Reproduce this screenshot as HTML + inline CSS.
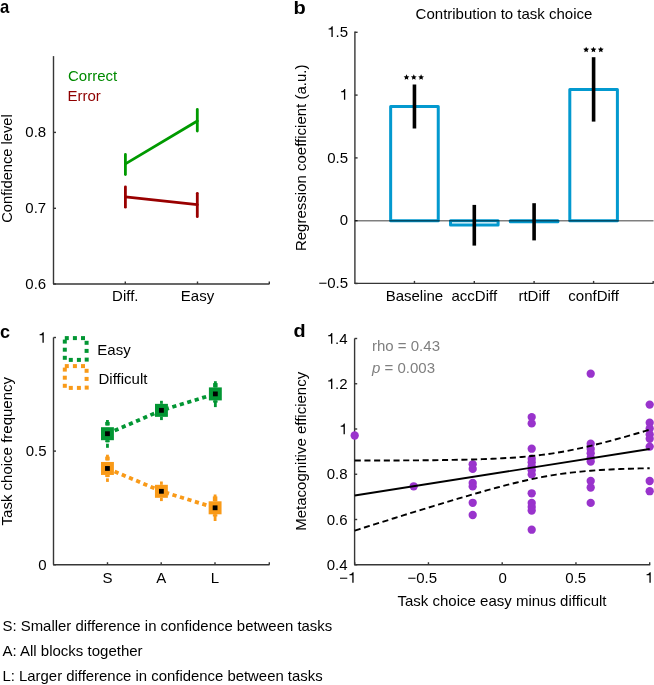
<!DOCTYPE html>
<html><head><meta charset="utf-8"><style>
html,body{margin:0;padding:0;background:#fff;overflow:hidden;}
svg{display:block;will-change:transform;}
text{font-family:"Liberation Sans", sans-serif;}
</style></head><body>
<svg width="654" height="685" viewBox="0 0 654 685" font-family="Liberation Sans, sans-serif">
<rect width="654" height="685" fill="#fff"/>
<text x="0.1" y="12.6" font-size="19" text-anchor="start" fill="#000" font-weight="bold" textLength="9.29" lengthAdjust="spacingAndGlyphs" >a</text>
<line x1="53.5" y1="56.1" x2="53.5" y2="284" stroke="#363636" stroke-width="1.4" />
<line x1="53" y1="284" x2="269.5" y2="284" stroke="#363636" stroke-width="1.4" />
<line x1="269.3" y1="284" x2="269.3" y2="281.5" stroke="#363636" stroke-width="1.4" />
<line x1="53.5" y1="132.4" x2="56" y2="132.4" stroke="#363636" stroke-width="1.4" />
<text x="46.2" y="137.1" font-size="15" text-anchor="end" fill="#000" font-weight="normal" >0.8</text>
<line x1="53.5" y1="208.3" x2="56" y2="208.3" stroke="#363636" stroke-width="1.4" />
<text x="46.2" y="213.0" font-size="15" text-anchor="end" fill="#000" font-weight="normal" >0.7</text>
<line x1="53.5" y1="284" x2="56" y2="284" stroke="#363636" stroke-width="1.4" />
<text x="46.2" y="288.7" font-size="15" text-anchor="end" fill="#000" font-weight="normal" >0.6</text>
<line x1="125.3" y1="284" x2="125.3" y2="281.5" stroke="#363636" stroke-width="1.4" />
<text x="125.3" y="301.1" font-size="15" text-anchor="middle" fill="#000" font-weight="normal" >Diff.</text>
<line x1="197.5" y1="284" x2="197.5" y2="281.5" stroke="#363636" stroke-width="1.4" />
<text x="197.5" y="301.1" font-size="15" text-anchor="middle" fill="#000" font-weight="normal" >Easy</text>
<text x="11.8" y="168.5" font-size="15" text-anchor="middle" fill="#000" font-weight="normal" textLength="108.6" lengthAdjust="spacingAndGlyphs" transform="rotate(-90 11.8 168.5)">Confidence level</text>
<text x="68" y="80.9" font-size="15" text-anchor="start" fill="#008a00" font-weight="normal" >Correct</text>
<text x="67.5" y="100.8" font-size="15" text-anchor="start" fill="#8f0000" font-weight="normal" >Error</text>
<g stroke-linecap="round" stroke-width="2.8" fill="none">
<polyline points="125.4,163.9 197.3,121" stroke="#009a00"/>
<line x1="125.4" y1="154.5" x2="125.4" y2="174.6" stroke="#009a00"/>
<line x1="197.3" y1="109.5" x2="197.3" y2="131" stroke="#009a00"/>
<polyline points="125.4,196.8 197.3,204.7" stroke="#990000"/>
<line x1="125.4" y1="186.8" x2="125.4" y2="207.2" stroke="#990000"/>
<line x1="197.3" y1="193.3" x2="197.3" y2="216.7" stroke="#990000"/>
</g>
<text x="293.5" y="13.6" font-size="19" text-anchor="start" fill="#000" font-weight="bold" textLength="12.23" lengthAdjust="spacingAndGlyphs" >b</text>
<text x="504" y="19.3" font-size="15" text-anchor="middle" fill="#000" font-weight="normal" >Contribution to task choice</text>
<line x1="354.9" y1="31.6" x2="354.9" y2="283.4" stroke="#363636" stroke-width="1.4" />
<line x1="354.3" y1="283.4" x2="653.5" y2="283.4" stroke="#363636" stroke-width="1.4" />
<line x1="653.2" y1="283.4" x2="653.2" y2="280.9" stroke="#363636" stroke-width="1.4" />
<line x1="354.9" y1="32.30000000000001" x2="357.6" y2="32.30000000000001" stroke="#363636" stroke-width="1.4" />
<text x="348" y="36.90000000000001" font-size="15" text-anchor="end" fill="#000" font-weight="normal" > .5</text>
<polygon points="331.44,36.90 332.74,36.90 332.74,26.33 331.83,26.33 331.27,27.23 330.15,28.13 328.59,28.43 328.59,29.45 331.44,29.45" fill="#000"/>
<line x1="354.9" y1="95.1" x2="357.6" y2="95.1" stroke="#363636" stroke-width="1.4" />
<text x="348" y="99.69999999999999" font-size="15" text-anchor="end" fill="#000" font-weight="normal" > </text>
<polygon points="343.95,99.70 345.25,99.70 345.25,89.12 344.34,89.12 343.78,90.02 342.66,90.92 341.10,91.22 341.10,92.24 343.95,92.24" fill="#000"/>
<line x1="354.9" y1="157.89999999999998" x2="357.6" y2="157.89999999999998" stroke="#363636" stroke-width="1.4" />
<text x="348" y="162.49999999999997" font-size="15" text-anchor="end" fill="#000" font-weight="normal" >0.5</text>
<line x1="354.9" y1="220.7" x2="357.6" y2="220.7" stroke="#363636" stroke-width="1.4" />
<text x="348" y="225.29999999999998" font-size="15" text-anchor="end" fill="#000" font-weight="normal" >0</text>
<line x1="354.9" y1="283.5" x2="357.6" y2="283.5" stroke="#363636" stroke-width="1.4" />
<text x="348" y="288.1" font-size="15" text-anchor="end" fill="#000" font-weight="normal" >−0.5</text>
<rect x="390.65" y="106.404" width="47.6" height="114.29599999999999" fill="none" stroke="#0399cf" stroke-width="3.0" stroke-linejoin="round"/>
<line x1="414.45" y1="283.4" x2="414.45" y2="280.9" stroke="#363636" stroke-width="1.4" />
<text x="414.45" y="300.6" font-size="15" text-anchor="middle" fill="#000" font-weight="normal" >Baseline</text>
<rect x="450.5" y="220.7" width="47.6" height="4.395999999999987" fill="none" stroke="#0399cf" stroke-width="3.0" stroke-linejoin="round"/>
<line x1="474.3" y1="283.4" x2="474.3" y2="280.9" stroke="#363636" stroke-width="1.4" />
<text x="474.3" y="300.6" font-size="15" text-anchor="middle" fill="#000" font-weight="normal" >accDiff</text>
<rect x="510.3" y="220.7" width="47.6" height="1.0047999999999888" fill="none" stroke="#0399cf" stroke-width="3.0" stroke-linejoin="round"/>
<line x1="534.1" y1="283.4" x2="534.1" y2="280.9" stroke="#363636" stroke-width="1.4" />
<text x="534.1" y="300.6" font-size="15" text-anchor="middle" fill="#000" font-weight="normal" >rtDiff</text>
<rect x="569.8000000000001" y="89.44800000000001" width="47.6" height="131.25199999999998" fill="none" stroke="#0399cf" stroke-width="3.0" stroke-linejoin="round"/>
<line x1="593.6" y1="283.4" x2="593.6" y2="280.9" stroke="#363636" stroke-width="1.4" />
<text x="593.6" y="300.6" font-size="15" text-anchor="middle" fill="#000" font-weight="normal" >confDiff</text>
<line x1="354.9" y1="220.8" x2="653.5" y2="220.8" stroke="rgba(0,0,0,0.5)" stroke-width="1.6" />
<line x1="414.45" y1="84.5" x2="414.45" y2="128.5" stroke="#000" stroke-width="3.6" />
<line x1="474.3" y1="204.9" x2="474.3" y2="245.6" stroke="#000" stroke-width="3.6" />
<line x1="534.1" y1="203.2" x2="534.1" y2="240.4" stroke="#000" stroke-width="3.6" />
<line x1="593.6" y1="57.2" x2="593.6" y2="121.6" stroke="#000" stroke-width="3.6" />
<polygon points="406.50,74.35 407.36,76.22 409.40,76.46 407.89,77.85 408.29,79.87 406.50,78.86 404.71,79.87 405.11,77.85 403.60,76.46 405.64,76.22" fill="#000"/>
<polygon points="413.80,74.35 414.66,76.22 416.70,76.46 415.19,77.85 415.59,79.87 413.80,78.86 412.01,79.87 412.41,77.85 410.90,76.46 412.94,76.22" fill="#000"/>
<polygon points="421.10,74.35 421.96,76.22 424.00,76.46 422.49,77.85 422.89,79.87 421.10,78.86 419.31,79.87 419.71,77.85 418.20,76.46 420.24,76.22" fill="#000"/>
<polygon points="586.15,46.65 587.01,48.52 589.05,48.76 587.54,50.15 587.94,52.17 586.15,51.16 584.36,52.17 584.76,50.15 583.25,48.76 585.29,48.52" fill="#000"/>
<polygon points="593.45,46.65 594.31,48.52 596.35,48.76 594.84,50.15 595.24,52.17 593.45,51.16 591.66,52.17 592.06,50.15 590.55,48.76 592.59,48.52" fill="#000"/>
<polygon points="600.80,46.65 601.66,48.52 603.70,48.76 602.19,50.15 602.59,52.17 600.80,51.16 599.01,52.17 599.41,50.15 597.90,48.76 599.94,48.52" fill="#000"/>
<text x="306.3" y="157.8" font-size="15" text-anchor="middle" fill="#000" font-weight="normal" transform="rotate(-90 306.3 157.8)">Regression coefficient (a.u.)</text>
<text x="0.1" y="337.6" font-size="19" text-anchor="start" fill="#000" font-weight="bold" textLength="10.03" lengthAdjust="spacingAndGlyphs" >c</text>
<line x1="53.5" y1="337.5" x2="53.5" y2="564.7" stroke="#363636" stroke-width="1.4" />
<line x1="53" y1="564.7" x2="269.5" y2="564.7" stroke="#363636" stroke-width="1.4" />
<line x1="269.3" y1="564.7" x2="269.3" y2="562.2" stroke="#363636" stroke-width="1.4" />
<line x1="53.5" y1="337.50000000000006" x2="56" y2="337.50000000000006" stroke="#363636" stroke-width="1.4" />
<text x="46.5" y="342.70000000000005" font-size="15" text-anchor="end" fill="#000" font-weight="normal" > </text>
<polygon points="42.45,342.70 43.75,342.70 43.75,332.13 42.84,332.13 42.28,333.03 41.16,333.93 39.60,334.23 39.60,335.25 42.45,335.25" fill="#000"/>
<line x1="53.5" y1="451.1" x2="56" y2="451.1" stroke="#363636" stroke-width="1.4" />
<text x="46.5" y="456.3" font-size="15" text-anchor="end" fill="#000" font-weight="normal" >0.5</text>
<line x1="53.5" y1="564.7" x2="56" y2="564.7" stroke="#363636" stroke-width="1.4" />
<text x="46.5" y="569.9000000000001" font-size="15" text-anchor="end" fill="#000" font-weight="normal" >0</text>
<line x1="107.5" y1="564.7" x2="107.5" y2="562.2" stroke="#363636" stroke-width="1.4" />
<text x="107.5" y="583.3" font-size="15" text-anchor="middle" fill="#000" font-weight="normal" >S</text>
<line x1="161.2" y1="564.7" x2="161.2" y2="562.2" stroke="#363636" stroke-width="1.4" />
<text x="161.2" y="583.3" font-size="15" text-anchor="middle" fill="#000" font-weight="normal" >A</text>
<line x1="215" y1="564.7" x2="215" y2="562.2" stroke="#363636" stroke-width="1.4" />
<text x="215" y="583.3" font-size="15" text-anchor="middle" fill="#000" font-weight="normal" >L</text>
<text x="11.8" y="451.2" font-size="15" text-anchor="middle" fill="#000" font-weight="normal" transform="rotate(-90 11.8 451.2)">Task choice frequency</text>
<text x="97.3" y="354.9" font-size="15" text-anchor="start" fill="#000" font-weight="normal" >Easy</text>
<text x="98.5" y="384.1" font-size="15" text-anchor="start" fill="#000" font-weight="normal" >Difficult</text>
<rect x="64.8" y="336.1" width="4" height="4" fill="#029633"/>
<rect x="72.9" y="336.1" width="4" height="4" fill="#029633"/>
<rect x="81" y="336.1" width="4" height="4" fill="#029633"/>
<rect x="84.6" y="340.8" width="4" height="4" fill="#029633"/>
<rect x="84.6" y="348.9" width="4" height="4" fill="#029633"/>
<rect x="84.7" y="357.6" width="4" height="4" fill="#029633"/>
<rect x="76.9" y="357.9" width="4" height="4" fill="#029633"/>
<rect x="68.8" y="357.9" width="4" height="4" fill="#029633"/>
<rect x="62.8" y="355.8" width="4" height="4" fill="#029633"/>
<rect x="62.8" y="347.7" width="4" height="4" fill="#029633"/>
<rect x="62.8" y="339.6" width="4" height="4" fill="#029633"/>
<rect x="64.8" y="364.1" width="4" height="4" fill="#f99a18"/>
<rect x="72.9" y="364.1" width="4" height="4" fill="#f99a18"/>
<rect x="81" y="364.1" width="4" height="4" fill="#f99a18"/>
<rect x="84.6" y="368.8" width="4" height="4" fill="#f99a18"/>
<rect x="84.6" y="376.9" width="4" height="4" fill="#f99a18"/>
<rect x="84.7" y="385.6" width="4" height="4" fill="#f99a18"/>
<rect x="76.9" y="385.9" width="4" height="4" fill="#f99a18"/>
<rect x="68.8" y="385.9" width="4" height="4" fill="#f99a18"/>
<rect x="62.8" y="383.8" width="4" height="4" fill="#f99a18"/>
<rect x="62.8" y="375.7" width="4" height="4" fill="#f99a18"/>
<rect x="62.8" y="367.6" width="4" height="4" fill="#f99a18"/>
<polyline points="107.45,433.7 161.45,410.35 215.35,393.9" fill="none" stroke="#029633" stroke-width="3.8" stroke-dasharray="4.2 3.6"/>
<rect x="106.05" y="420.00" width="2.8" height="7.20" fill="#029633"/>
<rect x="106.05" y="440.20" width="2.8" height="7.60" fill="#029633"/>
<rect x="105.20" y="421.90" width="4.5" height="3.80" fill="#029633"/>
<rect x="105.20" y="440.20" width="4.5" height="2.2" fill="#029633"/>
<rect x="104.95" y="425.70" width="5" height="1.50" fill="#fff"/>
<rect x="104.95" y="442.40" width="5" height="1.30" fill="#fff"/>
<rect x="160.05" y="400.80" width="2.8" height="3.05" fill="#029633"/>
<rect x="160.05" y="416.85" width="2.8" height="3.25" fill="#029633"/>
<rect x="213.95" y="381.20" width="2.8" height="6.20" fill="#029633"/>
<rect x="213.95" y="400.40" width="2.8" height="6.70" fill="#029633"/>
<rect x="213.10" y="383.10" width="4.5" height="4.30" fill="#029633"/>
<rect x="213.10" y="400.40" width="4.5" height="2.2" fill="#029633"/>
<rect x="101.0" y="427.2" width="12.9" height="13" fill="#029633"/>
<rect x="105.05" y="431.3" width="4.8" height="4.8" fill="#000"/>
<rect x="155.0" y="403.85" width="12.9" height="13" fill="#029633"/>
<rect x="159.04999999999998" y="407.95000000000005" width="4.8" height="4.8" fill="#000"/>
<rect x="208.9" y="387.4" width="12.9" height="13" fill="#029633"/>
<rect x="212.95" y="391.5" width="4.8" height="4.8" fill="#000"/>
<polyline points="107.45,468.45 161.4,491.3 215.1,507.8" fill="none" stroke="#f99a18" stroke-width="3.8" stroke-dasharray="4.2 3.6"/>
<rect x="106.05" y="454.70" width="2.8" height="7.25" fill="#f99a18"/>
<rect x="106.05" y="474.95" width="2.8" height="6.95" fill="#f99a18"/>
<rect x="105.20" y="456.60" width="4.5" height="4.05" fill="#f99a18"/>
<rect x="105.20" y="474.95" width="4.5" height="2.2" fill="#f99a18"/>
<rect x="104.95" y="460.65" width="5" height="1.30" fill="#fff"/>
<rect x="104.95" y="477.15" width="5" height="1.20" fill="#fff"/>
<rect x="160.00" y="481.50" width="2.8" height="3.30" fill="#f99a18"/>
<rect x="160.00" y="497.80" width="2.8" height="3.30" fill="#f99a18"/>
<rect x="213.70" y="494.50" width="2.8" height="6.80" fill="#f99a18"/>
<rect x="213.70" y="514.30" width="2.8" height="6.70" fill="#f99a18"/>
<rect x="212.85" y="496.40" width="4.5" height="4.90" fill="#f99a18"/>
<rect x="212.85" y="514.30" width="4.5" height="2.2" fill="#f99a18"/>
<rect x="101.0" y="461.95" width="12.9" height="13" fill="#f99a18"/>
<rect x="105.05" y="466.05" width="4.8" height="4.8" fill="#000"/>
<rect x="154.95000000000002" y="484.8" width="12.9" height="13" fill="#f99a18"/>
<rect x="159.0" y="488.90000000000003" width="4.8" height="4.8" fill="#000"/>
<rect x="208.65" y="501.3" width="12.9" height="13" fill="#f99a18"/>
<rect x="212.7" y="505.40000000000003" width="4.8" height="4.8" fill="#000"/>
<text x="293.4" y="337.4" font-size="19" text-anchor="start" fill="#000" font-weight="bold" textLength="12.12" lengthAdjust="spacingAndGlyphs" >d</text>
<line x1="354.6" y1="338.5" x2="354.6" y2="564.75" stroke="#363636" stroke-width="1.4" />
<line x1="354.1" y1="564.75" x2="650.2" y2="564.75" stroke="#363636" stroke-width="1.4" />
<line x1="354.6" y1="338.5" x2="357.2" y2="338.5" stroke="#363636" stroke-width="1.4" />
<text x="347.6" y="343.7" font-size="15" text-anchor="end" fill="#000" font-weight="normal" > .4</text>
<polygon points="331.04,343.70 332.34,343.70 332.34,333.12 331.43,333.12 330.87,334.02 329.75,334.93 328.19,335.22 328.19,336.25 331.04,336.25" fill="#000"/>
<line x1="354.6" y1="383.75" x2="357.2" y2="383.75" stroke="#363636" stroke-width="1.4" />
<text x="347.6" y="388.95" font-size="15" text-anchor="end" fill="#000" font-weight="normal" > .2</text>
<polygon points="331.04,388.95 332.34,388.95 332.34,378.38 331.43,378.38 330.87,379.27 329.75,380.18 328.19,380.47 328.19,381.50 331.04,381.50" fill="#000"/>
<line x1="354.6" y1="429.0" x2="357.2" y2="429.0" stroke="#363636" stroke-width="1.4" />
<text x="347.6" y="434.2" font-size="15" text-anchor="end" fill="#000" font-weight="normal" > </text>
<polygon points="343.55,434.20 344.85,434.20 344.85,423.62 343.94,423.62 343.38,424.52 342.26,425.43 340.70,425.72 340.70,426.75 343.55,426.75" fill="#000"/>
<line x1="354.6" y1="474.25" x2="357.2" y2="474.25" stroke="#363636" stroke-width="1.4" />
<text x="347.6" y="479.45" font-size="15" text-anchor="end" fill="#000" font-weight="normal" >0.8</text>
<line x1="354.6" y1="519.5" x2="357.2" y2="519.5" stroke="#363636" stroke-width="1.4" />
<text x="347.6" y="524.7" font-size="15" text-anchor="end" fill="#000" font-weight="normal" >0.6</text>
<line x1="354.6" y1="564.75" x2="357.2" y2="564.75" stroke="#363636" stroke-width="1.4" />
<text x="347.6" y="569.95" font-size="15" text-anchor="end" fill="#000" font-weight="normal" >0.4</text>
<line x1="354.7" y1="564.7" x2="354.7" y2="562.2" stroke="#363636" stroke-width="1.4" />
<text x="347.8" y="582.8" font-size="15" text-anchor="middle" fill="#000" font-weight="normal" >− </text>
<polygon points="352.30,582.80 353.60,582.80 353.60,572.22 352.69,572.22 352.13,573.12 351.01,574.02 349.45,574.32 349.45,575.34 352.30,575.34" fill="#000"/>
<line x1="428.45" y1="564.7" x2="428.45" y2="562.2" stroke="#363636" stroke-width="1.4" />
<text x="422.3" y="582.8" font-size="15" text-anchor="middle" fill="#000" font-weight="normal" >−0.5</text>
<line x1="502.2" y1="564.7" x2="502.2" y2="562.2" stroke="#363636" stroke-width="1.4" />
<text x="502.6" y="582.8" font-size="15" text-anchor="middle" fill="#000" font-weight="normal" >0</text>
<line x1="575.95" y1="564.7" x2="575.95" y2="562.2" stroke="#363636" stroke-width="1.4" />
<text x="575.8" y="582.8" font-size="15" text-anchor="middle" fill="#000" font-weight="normal" >0.5</text>
<line x1="649.7" y1="564.7" x2="649.7" y2="562.2" stroke="#363636" stroke-width="1.4" />
<text x="649.3" y="582.8" font-size="15" text-anchor="middle" fill="#000" font-weight="normal" > </text>
<polygon points="649.42,582.80 650.72,582.80 650.72,572.22 649.81,572.22 649.25,573.12 648.13,574.02 646.57,574.32 646.57,575.34 649.42,575.34" fill="#000"/>
<text x="502" y="605.8" font-size="15" text-anchor="middle" fill="#000" font-weight="normal" >Task choice easy minus difficult</text>
<text x="306.3" y="451.3" font-size="15" text-anchor="middle" fill="#000" font-weight="normal" transform="rotate(-90 306.3 451.3)">Metacognitive efficiency</text>
<text x="372" y="351.3" font-size="15" text-anchor="start" fill="#7f7f7f" font-weight="normal" >rho = 0.43</text>
<text x="372" y="372.6" font-size="15" fill="#7f7f7f"><tspan font-style="italic">p</tspan> = 0.003</text>
<circle cx="354.70" cy="435.5" r="4.15" fill="#9933cc"/>
<circle cx="413.70" cy="486.3" r="4.15" fill="#9933cc"/>
<circle cx="472.70" cy="464.3" r="4.15" fill="#9933cc"/>
<circle cx="472.70" cy="468.9" r="4.15" fill="#9933cc"/>
<circle cx="472.70" cy="482.9" r="4.15" fill="#9933cc"/>
<circle cx="472.70" cy="486.4" r="4.15" fill="#9933cc"/>
<circle cx="472.70" cy="502.8" r="4.15" fill="#9933cc"/>
<circle cx="472.70" cy="515" r="4.15" fill="#9933cc"/>
<circle cx="531.70" cy="417.1" r="4.15" fill="#9933cc"/>
<circle cx="531.70" cy="423.4" r="4.15" fill="#9933cc"/>
<circle cx="531.70" cy="448.7" r="4.15" fill="#9933cc"/>
<circle cx="531.70" cy="458.7" r="4.15" fill="#9933cc"/>
<circle cx="531.70" cy="462.2" r="4.15" fill="#9933cc"/>
<circle cx="531.70" cy="466.2" r="4.15" fill="#9933cc"/>
<circle cx="531.70" cy="470.3" r="4.15" fill="#9933cc"/>
<circle cx="531.70" cy="474.4" r="4.15" fill="#9933cc"/>
<circle cx="531.70" cy="493.3" r="4.15" fill="#9933cc"/>
<circle cx="531.70" cy="503" r="4.15" fill="#9933cc"/>
<circle cx="531.70" cy="507" r="4.15" fill="#9933cc"/>
<circle cx="531.70" cy="510.5" r="4.15" fill="#9933cc"/>
<circle cx="531.70" cy="529.7" r="4.15" fill="#9933cc"/>
<circle cx="590.70" cy="373.7" r="4.15" fill="#9933cc"/>
<circle cx="590.70" cy="443.7" r="4.15" fill="#9933cc"/>
<circle cx="590.70" cy="449" r="4.15" fill="#9933cc"/>
<circle cx="590.70" cy="453.3" r="4.15" fill="#9933cc"/>
<circle cx="590.70" cy="457.7" r="4.15" fill="#9933cc"/>
<circle cx="590.70" cy="461.5" r="4.15" fill="#9933cc"/>
<circle cx="590.70" cy="481" r="4.15" fill="#9933cc"/>
<circle cx="590.70" cy="487.5" r="4.15" fill="#9933cc"/>
<circle cx="590.70" cy="502.9" r="4.15" fill="#9933cc"/>
<circle cx="649.70" cy="404.6" r="4.15" fill="#9933cc"/>
<circle cx="649.70" cy="422.7" r="4.15" fill="#9933cc"/>
<circle cx="649.70" cy="428.5" r="4.15" fill="#9933cc"/>
<circle cx="649.70" cy="434.4" r="4.15" fill="#9933cc"/>
<circle cx="649.70" cy="438.8" r="4.15" fill="#9933cc"/>
<circle cx="649.70" cy="446.6" r="4.15" fill="#9933cc"/>
<circle cx="649.70" cy="481" r="4.15" fill="#9933cc"/>
<circle cx="649.70" cy="491.2" r="4.15" fill="#9933cc"/>
<line x1="354.7" y1="495.56" x2="649.7" y2="448.96" stroke="#000" stroke-width="1.9"/>
<polyline points="354.70,460.52 359.62,460.52 364.53,460.52 369.45,460.52 374.37,460.51 379.28,460.51 384.20,460.50 389.12,460.48 394.03,460.47 398.95,460.45 403.87,460.42 408.78,460.40 413.70,460.36 418.62,460.33 423.53,460.29 428.45,460.24 433.37,460.19 438.28,460.13 443.20,460.06 448.12,459.99 453.03,459.90 457.95,459.81 462.87,459.71 467.78,459.59 472.70,459.46 477.62,459.32 482.53,459.16 487.45,458.98 492.37,458.77 497.28,458.55 502.20,458.30 507.12,458.02 512.03,457.71 516.95,457.36 521.87,456.97 526.78,456.54 531.70,456.05 536.62,455.52 541.53,454.93 546.45,454.29 551.37,453.58 556.28,452.81 561.20,451.98 566.12,451.09 571.03,450.15 575.95,449.14 580.87,448.08 585.78,446.98 590.70,445.83 595.62,444.63 600.53,443.40 605.45,442.14 610.37,440.84 615.28,439.52 620.20,438.18 625.12,436.81 630.03,435.42 634.95,434.02 639.87,432.60 644.78,431.16 649.70,429.72" fill="none" stroke="#000" stroke-width="1.9" stroke-dasharray="6.1 3.6"/>
<polyline points="354.70,530.60 359.62,529.05 364.53,527.50 369.45,525.95 374.37,524.40 379.28,522.85 384.20,521.31 389.12,519.77 394.03,518.23 398.95,516.70 403.87,515.17 408.78,513.64 413.70,512.12 418.62,510.60 423.53,509.09 428.45,507.58 433.37,506.08 438.28,504.59 443.20,503.10 448.12,501.62 453.03,500.15 457.95,498.69 462.87,497.24 467.78,495.80 472.70,494.38 477.62,492.97 482.53,491.58 487.45,490.20 492.37,488.85 497.28,487.52 502.20,486.22 507.12,484.95 512.03,483.70 516.95,482.50 521.87,481.34 526.78,480.21 531.70,479.14 536.62,478.12 541.53,477.16 546.45,476.25 551.37,475.40 556.28,474.62 561.20,473.89 566.12,473.23 571.03,472.62 575.95,472.07 580.87,471.58 585.78,471.13 590.70,470.73 595.62,470.37 600.53,470.04 605.45,469.75 610.37,469.49 615.28,469.26 620.20,469.06 625.12,468.87 630.03,468.70 634.95,468.55 639.87,468.42 644.78,468.30 649.70,468.19" fill="none" stroke="#000" stroke-width="1.9" stroke-dasharray="6.1 3.6"/>
<text x="2.5" y="630.5" font-size="15" text-anchor="start" fill="#000" font-weight="normal" textLength="329.7" lengthAdjust="spacingAndGlyphs" >S: Smaller difference in confidence between tasks</text>
<text x="2.5" y="655.7" font-size="15" text-anchor="start" fill="#000" font-weight="normal" >A: All blocks together</text>
<text x="2.5" y="681" font-size="15" text-anchor="start" fill="#000" font-weight="normal" textLength="320.1" lengthAdjust="spacingAndGlyphs" >L: Larger difference in confidence between tasks</text>
</svg>
</body></html>
